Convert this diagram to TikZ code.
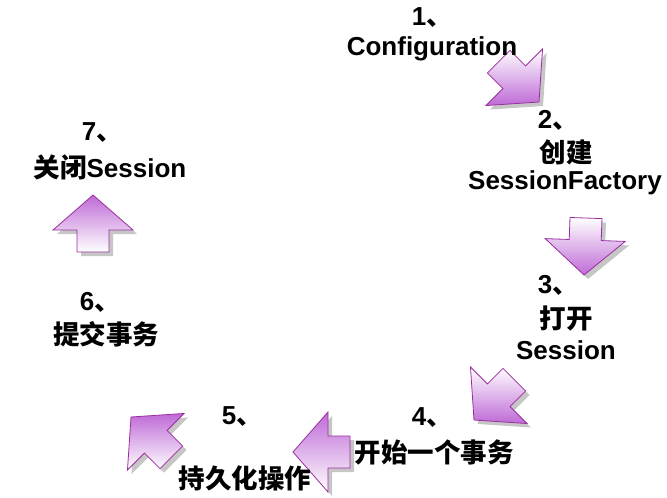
\documentclass[tikz,border=0pt]{standalone}
\usepackage{fontspec}
\setmainfont{Liberation Sans}
\newfontfamily\cjk{Noto Sans CJK SC}
\definecolor{arrline}{HTML}{9A2E9E}
\definecolor{arrdark}{HTML}{BE6AD6}
\begin{document}
\begin{tikzpicture}[x=1pt,y=-1pt,
  lbl/.style={font=\fontsize{26}{30}\selectfont\bfseries, inner sep=0pt, text=black},
  clbl/.style={font=\fontsize{26.5}{30}\selectfont\cjk\bfseries, inner sep=0pt, text=black}]
\useasboundingbox (0,0) rectangle (667,498);
\newcommand\blockarrow[4]{%
  \fill[gray!45, shift={(#1+4,#2+4)}, rotate=#3]
    (0,0) -- (-35,40) -- (-35,16) -- (-57,16) -- (-57,-16) -- (-35,-16) -- (-35,-40) -- cycle;
  \path[draw=arrline, line width=0.8pt, left color=white, right color=arrdark, shading angle=#4,
    shift={(#1,#2)}, rotate=#3]
    (0,0) -- (-35,40) -- (-35,16) -- (-57,16) -- (-57,-16) -- (-35,-16) -- (-35,-40) -- cycle;}
% arrows (tip x, tip y, rotation)
\blockarrow{539}{102}{-45}{0}
\blockarrow{584}{275}{-92}{0}
\blockarrow{474}{420}{-135}{0}
\blockarrow{293}{452}{180}{180}
\blockarrow{131}{417}{-225}{180}
\blockarrow{93}{195}{-270}{180}
% labels
\node[lbl] (n1) at (432,18) {1\cjk 、};
\node[lbl] (t1) at (432,49) {Configuration};
\node[lbl] (n2) at (558,120) {2\cjk 、};
\node[clbl] (c2) at (566,152) {创建};
\node[lbl] (t2) at (565,183) {SessionFactory};
\node[lbl] (n3) at (558,285) {3\cjk 、};
\node[clbl] (c3) at (566,318) {打开};
\node[lbl] (t3) at (566,350) {Session};
\node[lbl] (n4) at (432,418) {4\cjk 、};
\node[clbl] (c4) at (434,452) {开始一个事务};
\node[lbl] (n5) at (242,417) {5\cjk 、};
\node[clbl] (c5) at (245,478) {持久化操作};
\node[lbl] (n6) at (100,302) {6\cjk 、};
\node[clbl] (c6) at (106,334) {提交事务};
\node[lbl] (n7) at (102,133) {7\cjk 、};
\node[lbl] (c7) at (110,167) {{\cjk\fontsize{26.5}{30}\selectfont 关闭}Session};
\end{tikzpicture}
\end{document}
